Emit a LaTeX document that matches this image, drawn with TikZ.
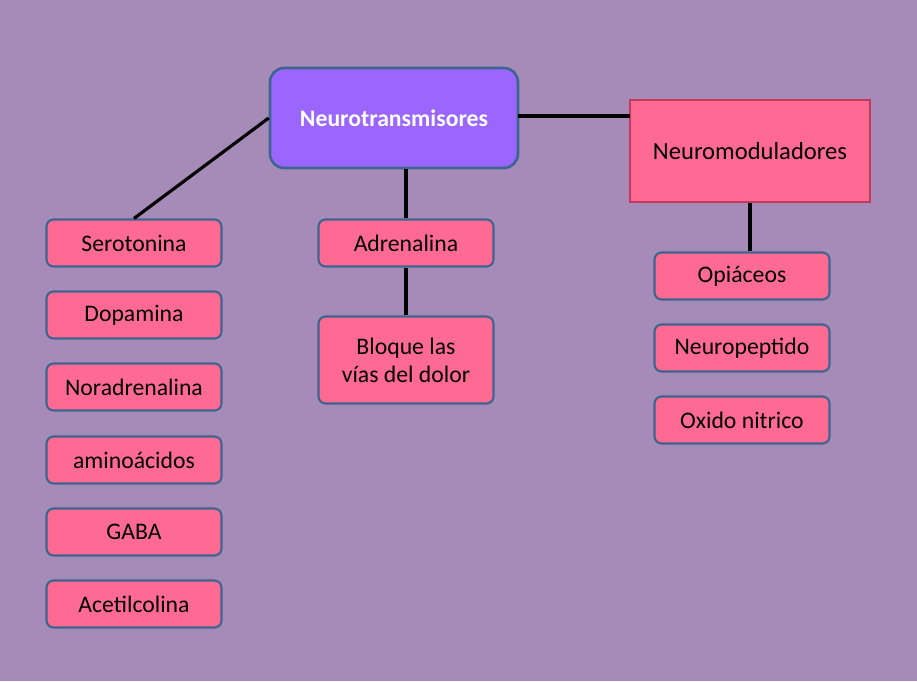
\documentclass[tikz,border=0pt]{standalone}
\usepackage{fontspec}
\setmainfont{Carlito}
\usetikzlibrary{positioning}
\definecolor{bgpurple}{HTML}{A68BB8}
\definecolor{boxpink}{HTML}{FF6A94}
\definecolor{boxedge}{HTML}{3E6590}
\definecolor{mainpurple}{HTML}{9B66FF}
\definecolor{modedge}{HTML}{C23A5E}
\tikzset{
  item/.style={rectangle,rounded corners=4pt,draw=boxedge,line width=1.2pt,fill=boxpink,
    minimum width=3.5cm,minimum height=0.94cm,font=\fontsize{13.5}{16}\selectfont,align=center},
  link/.style={line width=1.8pt,black}
}
\begin{document}
\begin{tikzpicture}[x=0.02cm,y=-0.02cm]
\fill[bgpurple] (0,0) rectangle (917,681);
\node[rectangle,rounded corners=8pt,draw=boxedge,line width=1.5pt,fill=mainpurple,text=white,
  minimum width=4.96cm,minimum height=2cm,font=\fontsize{13.5}{16}\selectfont\bfseries] (nt) at (394,118) {Neurotransmisores};
\node[rectangle,draw=modedge,line width=1.2pt,fill=boxpink,minimum width=4.8cm,minimum height=2.04cm,
  font=\fontsize{14}{16}\selectfont] (nm) at (750,151) {Neuromoduladores};
\node[item] (sero) at (134,243) {Serotonina};
\node[item] (dopa) at (134,315) {Dopamina};
\node[item] (nora) at (134,387) {Noradrenalina};
\node[item] (amino) at (134,460) {aminoácidos};
\node[item] (gaba) at (134,532) {GABA};
\node[item] (acet) at (134,604) {Acetilcolina};
\node[item] (adre) at (406,243) {Adrenalina};
\node[item,minimum height=1.74cm] (bloq) at (406,360) {Bloque las\\vías del dolor};
\node[item] (opia) at (742,276) {Opiáceos};
\node[item] (pept) at (742,348) {Neuropeptido};
\node[item] (oxid) at (742,420) {Oxido nitrico};
\coordinate (ntr) at (518,116);
\coordinate (nml) at (630,116);
\draw[link] (nt.west) -- (sero.north);
\draw[link] (nt.south -| adre.north) -- (adre.north);
\draw[link] (adre) -- (bloq);
\draw[link] (ntr) -- (nml);
\draw[link] (nm.south) -- (nm.south |- opia.north);
\end{tikzpicture}
\end{document}
